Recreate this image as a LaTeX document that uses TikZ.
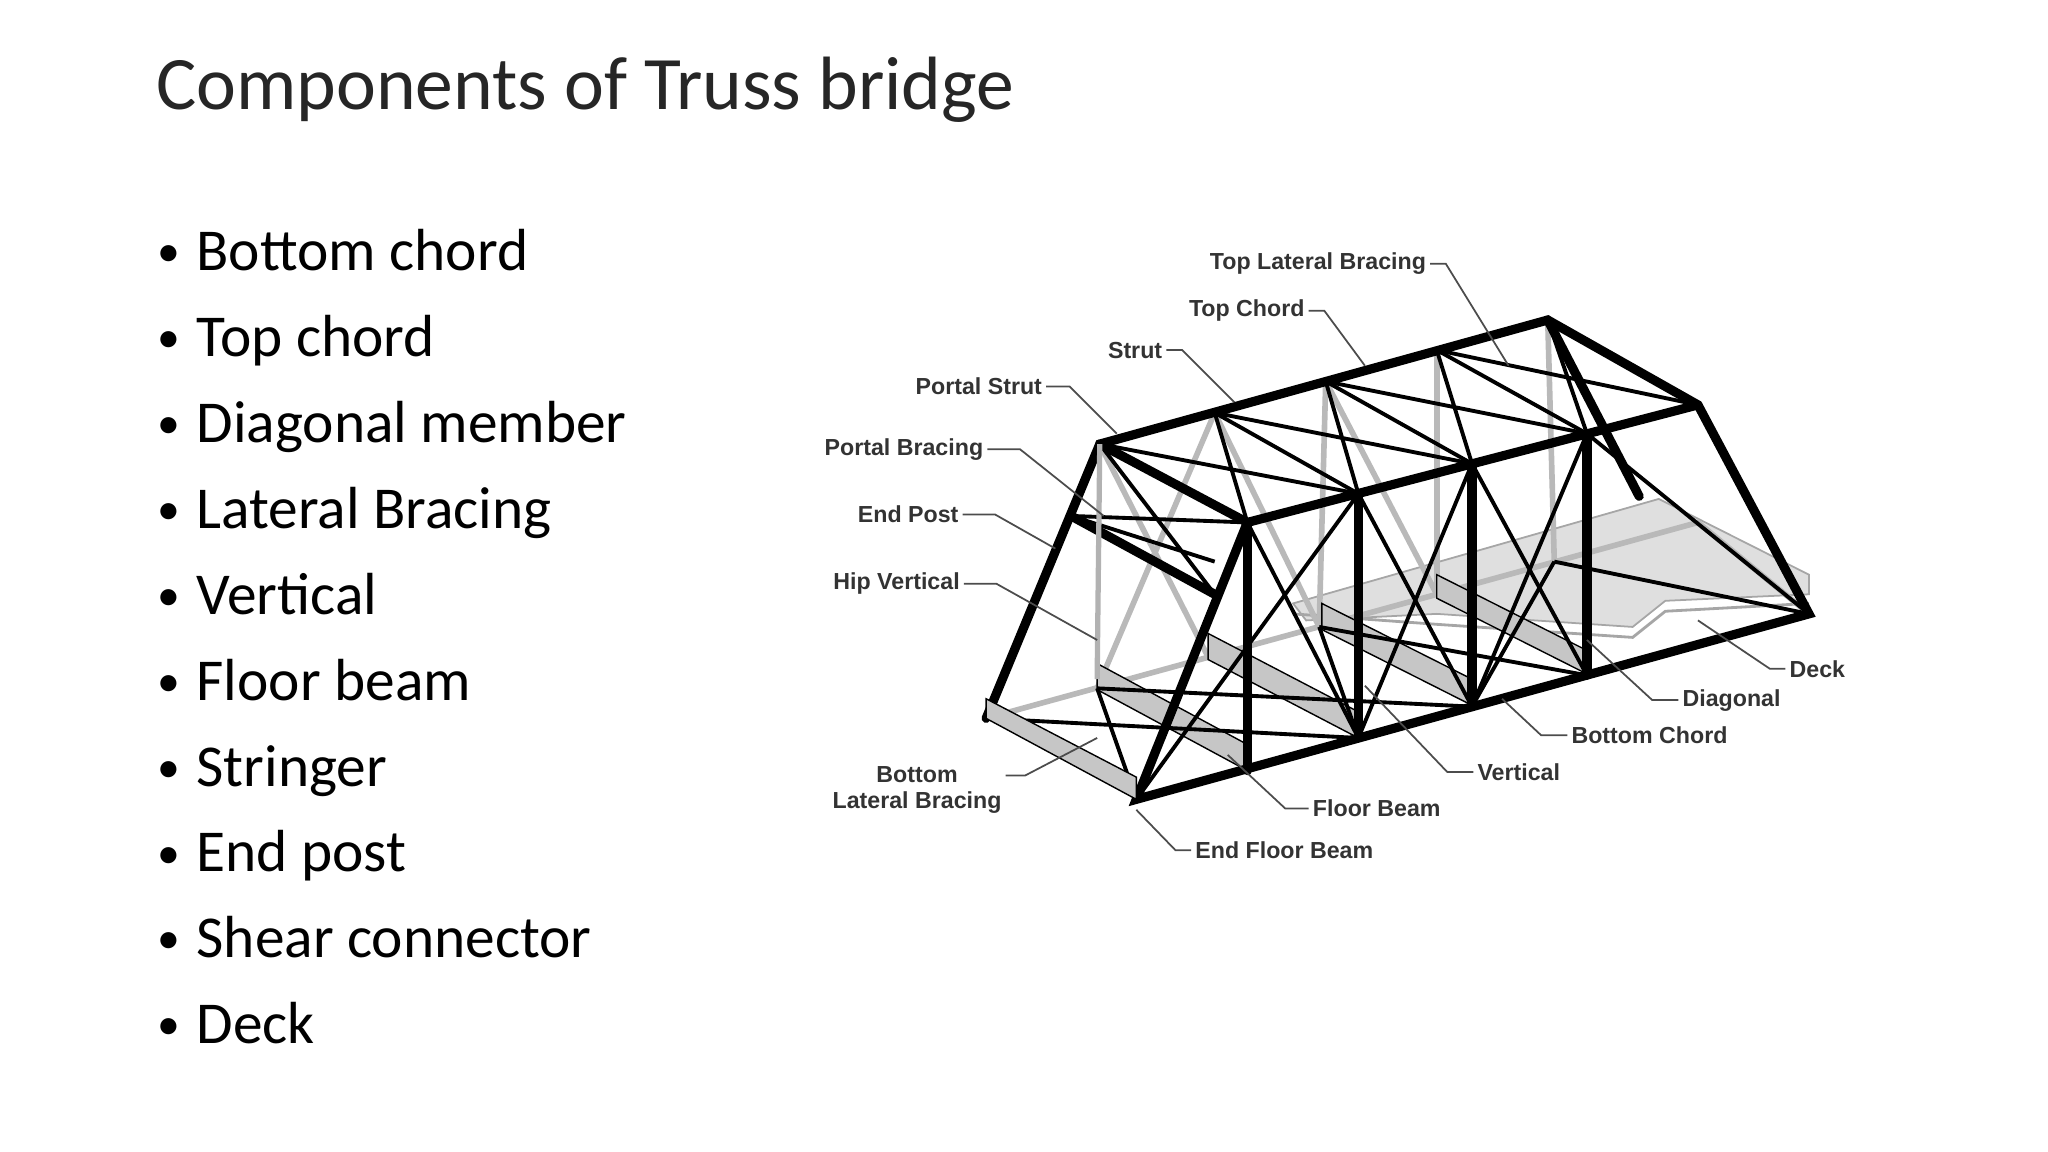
\documentclass[tikz,border=0pt]{standalone}
\usetikzlibrary{calc}
\usepackage{fontspec}
\setmainfont{Carlito}
\newfontfamily\lab{Liberation Sans}
\begin{document}
\begin{tikzpicture}[x=0.013061cm,y=-0.013061cm,
  thick/.style={line width=2.6pt,black,line cap=round},
  mem/.style={line width=1.1pt,black},
  far/.style={line width=1.6pt,gray!55},
  lbl/.style={font=\lab\fontsize{6.6}{7.5}\selectfont\bfseries,text=black!80,inner sep=1pt},
  lead/.style={line width=0.5pt,black!70},
  bul/.style={font=\fontsize{16.9}{18}\selectfont,anchor=base west,inner sep=0pt},
  beam/.style={fill=gray!45,draw=black,line width=0.4pt}]
\useasboundingbox (0,0) rectangle (1568,882);
\node[anchor=base west,font=\fontsize{21.5}{24}\selectfont,inner sep=0pt,text=black!85] (title) at (119,84) {Components of Truss bridge};
\foreach \t [count=\i] in {Bottom chord,Top chord,Diagonal member,Lateral Bracing,Vertical,Floor beam,Stringer,End post,Shear connector,Deck}{
  \node[bul] (b\i) at (150,207+65.8*\i-65.8) {\t};
  \node[bul,font=\fontsize{13}{14}\selectfont] (d\i) at (120,204+65.8*\i-65.8) {\textbullet};}
% key points
\coordinate (FBL) at (755,550); \coordinate (FTL) at (842,340);
\coordinate (NBL) at (870,612); \coordinate (NTL) at (955,400);
\coordinate (FTR) at (1185,245); \coordinate (NTR) at (1300,310);
\coordinate (NBR) at (1385,470); \coordinate (FBR) at (1300,400);
\coordinate (NT1) at (1040,378); \coordinate (NT2) at (1127,355); \coordinate (NT3) at (1215,332);
\coordinate (NB1) at (1040,565); \coordinate (NB2) at (1127,541); \coordinate (NB3) at (1215,517);
\coordinate (FT1) at (930,316); \coordinate (FT2) at (1015,292); \coordinate (FT3) at (1100,268);
\coordinate (FB1) at (840,527); \coordinate (FB2) at (925,503); \coordinate (FB3) at (1010,480); \coordinate (FB4) at (1100,455); \coordinate (FB5) at (1190,430);
% deck
\fill[gray!25,draw=gray!70,line width=0.5pt] (990,462) -- (1270,382) -- (1385,440) -- (1385,455) -- (1275,460) -- (1250,480) -- (1100,470) -- (1000,475) -- cycle;
\draw[gray!70,line width=0.8pt] (990,470) -- (1100,478) -- (1250,488) -- (1275,468) -- (1385,462);
% far truss
\draw[far] (FBL) -- (FBR) -- (NBR);
\foreach \a/\b in {FT1/FB1,FT2/FB3,FT3/FB4,FTR/FB5} \draw[far] (\a) -- (\b);
\draw[far] (FTL) -- (FB2) (FT1) -- (FB3) (FT2) -- (FB4);
% floor beams
\draw[beam] (840,508) -- (955,570) -- (955,590) -- (840,528) -- cycle;
\draw[beam] (925,485) -- (1040,545) -- (1040,565) -- (925,505) -- cycle;
\draw[beam] (1012,462) -- (1127,520) -- (1127,540) -- (1012,482) -- cycle;
\draw[beam] (1100,440) -- (1215,498) -- (1215,516) -- (1100,458) -- cycle;
% bottom lateral bracing
\draw[mem] (FBL) -- (NB1) (NBL) -- (FB1) (FB1) -- (NB2) (NB1) -- (FB3) (FB3)--(NB3) (NB2)--(FB5) (FB5)--(NBR);
% top lateral bracing
\draw[mem] (FTL) -- (NT1) (NTL) -- (FT1) (FT1) -- (NT2) (NT1) -- (FT2) (FT2) -- (NT3) (NT2) -- (FT3) (FT3) -- (NTR) (NT3) -- (FTR);
\draw[mem] (FT1)--(NT1) (FT2)--(NT2) (FT3)--(NT3);
% portal bracing
\draw[mem] (FTL) -- (930,455) (NTL) -- (820,395) (820,395)--(930,430);
\draw[thick] (820,395) -- (930,455);
% near truss members
\draw[mem] (NTL) -- (NB1) (NT1) -- (NB2) (NT2) -- (NB3) (NT3) -- (NBR);
\draw[mem] (NT1) -- (NBL) (NT2) -- (NB1) (NT3) -- (NB2);
\draw[thick] (NT1)--(NB1) (NT2)--(NB2) (NT3)--(NB3) (NTL) -- (955,590);
\draw[thick] (FTR) -- (1255,380);
% main chords
\draw[thick] (FBL) -- (FTL) -- (FTR) -- (NTR) -- (NBR) -- (NBL) -- (NTL) -- (NTR);
\draw[thick] (FTL) -- (NTL);
\draw[gray!60,line width=1.5pt] (FTL) -- (840,520);
\draw[beam] (FBL) -- (NBL) -- (870,595) -- (755,535) -- cycle;
% labels
\node[lbl,anchor=east] (l1) at (1095,202) {Top Lateral Bracing};
\node[lbl,anchor=east] (l2) at (1002,238) {Top Chord};
\node[lbl,anchor=east] (l3) at (893,268) {Strut};
\node[lbl,anchor=east] (l4) at (801,296) {Portal Strut};
\node[lbl,anchor=east] (l5) at (756,344) {Portal Bracing};
\node[lbl,anchor=east] (l6) at (737,394) {End Post};
\node[lbl,anchor=east] (l7) at (738,447) {Hip Vertical};
\node[lbl,anchor=east,align=center] (l8) at (770,605) {Bottom\\Lateral Bracing};
\node[lbl,anchor=west] (l9) at (912,651) {End Floor Beam};
\node[lbl,anchor=west] (l10) at (1002,619) {Floor Beam};
\node[lbl,anchor=west] (l11) at (1128,591) {Vertical};
\node[lbl,anchor=west] (l12) at (1200,563) {Bottom Chord};
\node[lbl,anchor=west] (l13) at (1285,536) {Diagonal};
\node[lbl,anchor=west] (l14) at (1367,512) {Deck};
\coordinate (e1) at (1155,280); \coordinate (e2) at (1045,280); \coordinate (e3) at (945,308);
\coordinate (e4) at (855,332); \coordinate (e5) at (845,395); \coordinate (e6) at (808,420);
\coordinate (e7) at (840,490); \coordinate (e8) at (840,565); \coordinate (e9) at (870,620);
\coordinate (e10) at (940,578); \coordinate (e11) at (1045,525); \coordinate (e12) at (1150,535);
\coordinate (e13) at (1215,490); \coordinate (e14) at (1300,475);
\draw[lead] (l1.east) -- ++(12,0) -- (e1);
\draw[lead] (l2.east) -- ++(12,0) -- (e2);
\draw[lead] (l3.east) -- ++(12,0) -- (e3);
\draw[lead] (l4.east) -- ++(18,0) -- (e4);
\draw[lead] (l5.east) -- ++(25,0) -- (e5);
\draw[lead] (l6.east) -- ++(25,0) -- (e6);
\draw[lead] (l7.east) -- ++(25,0) -- (e7);
\draw[lead] (l8.north east) ++(0,10) -- ++(15,0) -- (e8);
\draw[lead] (l9.west) -- ++(-12,0) -- (e9);
\draw[lead] (l10.west) -- ++(-18,0) -- (e10);
\draw[lead] (l11.west) -- ++(-20,0) -- (e11);
\draw[lead] (l12.west) -- ++(-20,0) -- (e12);
\draw[lead] (l13.west) -- ++(-20,0) -- (e13);
\draw[lead] (l14.west) -- ++(-12,0) -- (e14);
\end{tikzpicture}
\end{document}
